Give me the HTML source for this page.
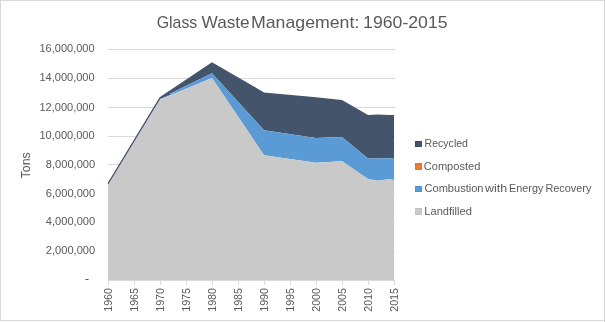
<!DOCTYPE html>
<html><head><meta charset="utf-8"><style>
html,body{margin:0;padding:0;background:#fff;}
svg{display:block;will-change:transform;}
text{font-family:"Liberation Sans",sans-serif;fill:#595959;}
</style></head><body>
<svg width="605" height="322" viewBox="0 0 605 322">
<rect x="0" y="0" width="605" height="322" fill="#fff"/>
<rect x="0.5" y="0.5" width="604" height="320" fill="none" stroke="#D9D9D9" stroke-width="1"/>
<g font-size="17">
<text x="156.7" y="27.8" textLength="40.6" lengthAdjust="spacingAndGlyphs">Glass</text>
<text x="201.5" y="27.8" textLength="48.2" lengthAdjust="spacingAndGlyphs">Waste</text>
<text x="251" y="27.8" textLength="108.3" lengthAdjust="spacingAndGlyphs">Management:</text>
<text x="363.1" y="27.8" textLength="84.5" lengthAdjust="spacingAndGlyphs">1960-2015</text>
</g>
<g stroke="#D9D9D9" stroke-width="1" shape-rendering="crispEdges">
<line x1="108" y1="49.5" x2="395" y2="49.5"/>
<line x1="108" y1="78.5" x2="395" y2="78.5"/>
<line x1="108" y1="107.5" x2="395" y2="107.5"/>
<line x1="108" y1="136.5" x2="395" y2="136.5"/>
<line x1="108" y1="164.5" x2="395" y2="164.5"/>
<line x1="108" y1="193.5" x2="395" y2="193.5"/>
<line x1="108" y1="222.5" x2="395" y2="222.5"/>
<line x1="108" y1="251.5" x2="395" y2="251.5"/>
</g>
<polygon fill="#44546A" points="108,183.0 160,97.1 212,62.3 264,92.4 316,97.3 342,100.0 368,114.9 378,114.4 388.6,114.9 394,115.0 394,158.7 388.6,158.3 378,158.6 368,158.6 342,137.0 316,137.9 264,130.2 212,73.3 160,98.6 108,184.3"/>
<polygon fill="#5B9BD5" points="108,184.3 160,98.6 212,73.3 264,130.2 316,137.9 342,137.0 368,158.6 378,158.6 388.6,158.3 394,158.7 394,180.0 388.6,179.2 378,180.8 368,178.9 342,161.3 316,162.8 264,155.2 212,77.9 160,99.5 108,184.4"/>
<polygon fill="#C9C9C9" points="108,184.4 160,99.5 212,77.9 264,155.2 316,162.8 342,161.3 368,178.9 378,180.8 388.6,179.2 394,180.0 394,280 108,280"/>
<polyline fill="none" stroke="#44546A" stroke-width="1.2" points="108,183.8 160,97.9 170,93.9"/>
<g stroke="#D9D9D9" stroke-width="1" shape-rendering="crispEdges">
<line x1="108" y1="280.5" x2="395" y2="280.5"/>
<line x1="108.5" y1="280" x2="108.5" y2="285"/>
<line x1="134.5" y1="280" x2="134.5" y2="285"/>
<line x1="160.5" y1="280" x2="160.5" y2="285"/>
<line x1="186.5" y1="280" x2="186.5" y2="285"/>
<line x1="212.5" y1="280" x2="212.5" y2="285"/>
<line x1="238.5" y1="280" x2="238.5" y2="285"/>
<line x1="264.5" y1="280" x2="264.5" y2="285"/>
<line x1="290.5" y1="280" x2="290.5" y2="285"/>
<line x1="316.5" y1="280" x2="316.5" y2="285"/>
<line x1="342.5" y1="280" x2="342.5" y2="285"/>
<line x1="368.5" y1="280" x2="368.5" y2="285"/>
<line x1="394.5" y1="280" x2="394.5" y2="285"/>
</g>
<g font-size="11" text-anchor="end">
<text x="94.6" y="52" textLength="55.1" lengthAdjust="spacingAndGlyphs">16,000,000</text>
<text x="94.6" y="81" textLength="55.1" lengthAdjust="spacingAndGlyphs">14,000,000</text>
<text x="94.6" y="111" textLength="55.1" lengthAdjust="spacingAndGlyphs">12,000,000</text>
<text x="94.6" y="139" textLength="55.1" lengthAdjust="spacingAndGlyphs">10,000,000</text>
<text x="95.15" y="168" textLength="49.3" lengthAdjust="spacingAndGlyphs">8,000,000</text>
<text x="95.15" y="197" textLength="49.3" lengthAdjust="spacingAndGlyphs">6,000,000</text>
<text x="95.15" y="225" textLength="49.3" lengthAdjust="spacingAndGlyphs">4,000,000</text>
<text x="95.15" y="254" textLength="49.3" lengthAdjust="spacingAndGlyphs">2,000,000</text>
</g>
<rect x="85.5" y="279" width="3" height="1" fill="#595959"/>
<rect x="604" y="321" width="1" height="1" fill="#D9D9D9"/>
<text transform="translate(30.1,178.4) rotate(-90)" font-size="12.5" textLength="26.2" lengthAdjust="spacingAndGlyphs">Tons</text>
<g font-size="11" text-anchor="end">
<text transform="translate(112.1,288.0) rotate(-90)" textLength="23.8" lengthAdjust="spacingAndGlyphs">1960</text>
<text transform="translate(138.1,288.0) rotate(-90)" textLength="23.8" lengthAdjust="spacingAndGlyphs">1965</text>
<text transform="translate(164.1,288.0) rotate(-90)" textLength="23.8" lengthAdjust="spacingAndGlyphs">1970</text>
<text transform="translate(190.1,288.0) rotate(-90)" textLength="23.8" lengthAdjust="spacingAndGlyphs">1975</text>
<text transform="translate(216.1,288.0) rotate(-90)" textLength="23.8" lengthAdjust="spacingAndGlyphs">1980</text>
<text transform="translate(242.1,288.0) rotate(-90)" textLength="23.8" lengthAdjust="spacingAndGlyphs">1985</text>
<text transform="translate(268.1,288.0) rotate(-90)" textLength="23.8" lengthAdjust="spacingAndGlyphs">1990</text>
<text transform="translate(294.1,288.0) rotate(-90)" textLength="23.8" lengthAdjust="spacingAndGlyphs">1995</text>
<text transform="translate(320.1,288.0) rotate(-90)" textLength="23.8" lengthAdjust="spacingAndGlyphs">2000</text>
<text transform="translate(346.1,288.0) rotate(-90)" textLength="23.8" lengthAdjust="spacingAndGlyphs">2005</text>
<text transform="translate(372.1,288.0) rotate(-90)" textLength="23.8" lengthAdjust="spacingAndGlyphs">2010</text>
<text transform="translate(398.1,288.0) rotate(-90)" textLength="23.8" lengthAdjust="spacingAndGlyphs">2015</text>
</g>
<rect x="415.5" y="141.5" width="6" height="5" fill="#44546A" stroke="#3D4C61" stroke-width="1"/>
<rect x="415.5" y="163.5" width="6" height="6" fill="#ED7D31" stroke="#EA7424" stroke-width="1"/>
<rect x="415.5" y="186.5" width="6" height="5" fill="#5B9BD5" stroke="#5294D2" stroke-width="1"/>
<rect x="415.5" y="208.5" width="6" height="6" fill="#C9C9C9" stroke="#C4C4C4" stroke-width="1"/>
<g font-size="11">
<text x="424.5" y="146.9" textLength="43.5" lengthAdjust="spacingAndGlyphs">Recycled</text>
<text x="423.8" y="169.6" textLength="56.5" lengthAdjust="spacingAndGlyphs">Composted</text>
<text x="424.5" y="191.9" textLength="59.0" lengthAdjust="spacingAndGlyphs">Combustion</text>
<text x="485.1" y="191.9" textLength="22.1" lengthAdjust="spacingAndGlyphs">with</text>
<text x="509.1" y="191.9" textLength="34.3" lengthAdjust="spacingAndGlyphs">Energy</text>
<text x="545.4" y="191.9" textLength="46.0" lengthAdjust="spacingAndGlyphs">Recovery</text>
<text x="424.3" y="215" textLength="47.5" lengthAdjust="spacingAndGlyphs">Landfilled</text>
</g>
</svg>
</body></html>
